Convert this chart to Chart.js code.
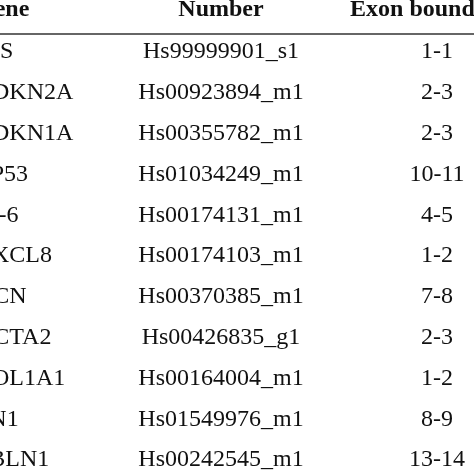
<!DOCTYPE html>
<html><head><meta charset="utf-8">
<script src="https://cdn.jsdelivr.net/npm/chart.js@4"></script>
<style>html,body{margin:0;padding:0;background:#fff}#w{width:474px;height:474px}</style>
</head><body><div id="w"><canvas id="c"></canvas></div>
<script>
const headers = ["Gene", "Number", "Exon boundaries"];
const genes = ["18S","CDKN2A","CDKN1A","TP53","IL-6","CXCL8","DCN","ACTA2","COL1A1","FN1","FBLN1"];
const numbers = ["Hs99999901_s1","Hs00923894_m1","Hs00355782_m1","Hs01034249_m1","Hs00174131_m1","Hs00174103_m1","Hs00370385_m1","Hs00426835_g1","Hs00164004_m1","Hs01549976_m1","Hs00242545_m1"];
const exons = ["1-1","2-3","2-3","10-11","4-5","1-2","7-8","2-3","1-2","8-9","13-14"];

const pts = [];
headers.forEach((t,c)=>pts.push({x:c,y:-1.03,t,b:true}));
genes.forEach((g,i)=>{pts.push({x:0,y:i,t:g});pts.push({x:1,y:i,t:numbers[i]});pts.push({x:2,y:i,t:exons[i]});});

const textPlugin = {
  id:'tbl',
  afterDatasetsDraw(chart){
    const ctx=chart.ctx, xs=chart.scales.x, ys=chart.scales.y;
    ctx.save();
    const ly=ys.getPixelForValue(-0.44);
    ctx.strokeStyle='#333';ctx.lineWidth=1.6;
    ctx.beginPath();ctx.moveTo(0,ly);ctx.lineTo(chart.width,ly);ctx.stroke();
    ctx.fillStyle='#111';ctx.textBaseline='middle';
    chart.data.datasets[0].data.forEach(p=>{
      ctx.font=(p.b?'bold ':'')+'24px "Liberation Serif"';
      let x=xs.getPixelForValue(p.x);
      if(p.x===0){ctx.textAlign='left';x-=29;} else ctx.textAlign='center';
      ctx.fillText(p.t,x,ys.getPixelForValue(p.y));
    });
    ctx.restore();
  }
};

new Chart(document.getElementById('c'),{
  type:'scatter',
  data:{datasets:[{data:pts,pointRadius:0,pointHoverRadius:0}]},
  options:{
    responsive:true,maintainAspectRatio:false,animation:false,
    layout:{padding:0},
    plugins:{legend:{display:false},tooltip:{enabled:false}},
    scales:{
      x:{type:'linear',min:-0.023,max:2.171,display:false},
      y:{type:'linear',reverse:true,min:-1.275,max:10.343,display:false}
    }
  },
  plugins:[textPlugin]
});
</script></body></html>
